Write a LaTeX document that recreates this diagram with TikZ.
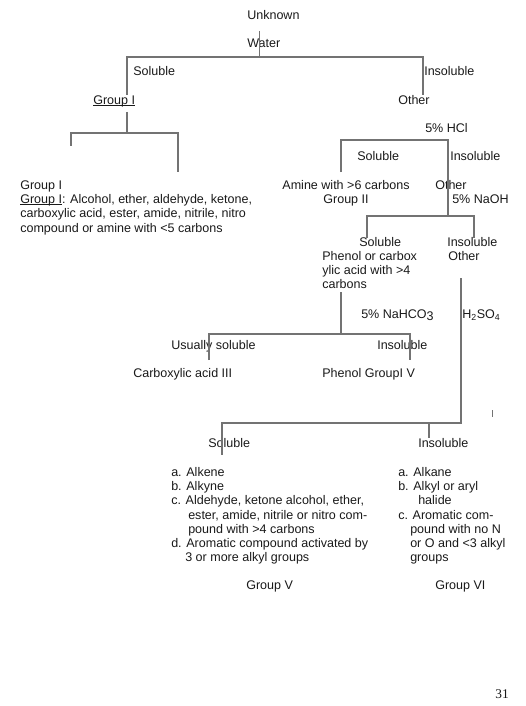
\documentclass[tikz,border=0pt]{standalone}
\usepackage{fontspec}
\setmainfont{Liberation Sans}
\newfontfamily\pagenumfont{Liberation Serif}
\definecolor{linegray}{RGB}{115,115,115}
\definecolor{textblack}{RGB}{25,25,25}
\newcommand\myul[1]{\setbox0\hbox{#1}\rlap{\rule[-1.1pt]{\wd0}{0.55pt}}\box0}
\tikzset{
  lbl/.style={anchor=base west, inner sep=0pt, text=textblack, font=\fontsize{9.4}{10.65}\selectfont},
  para/.style={lbl, align=left},
  branch/.style={draw=linegray, line width=0.9pt},
}
\begin{document}
\begin{tikzpicture}[x=0.75pt,y=-0.75pt]
\useasboundingbox (0,0) rectangle (525,706);
% ---- labels (multi-line nodes are placed by the baseline of their last line) ----
\node[lbl] (unknown) at (247,19.5) {Unknown};
\node[lbl] (water) at (247,47.5) {Water};
\node[lbl] (sol1) at (133,75.5) {Soluble};
\node[lbl] (insol1) at (424,75.5) {Insoluble};
\node[lbl] (g1u) at (93,104.5) {\myul{Group I}};
\node[lbl] (other1) at (398,104.5) {Other};
\node[lbl] (hcl) at (425,132.5) {5\% HCl};
\node[lbl] (sol2) at (357,160.5) {Soluble};
\node[lbl] (insol2) at (450,160.5) {Insoluble};
\node[para] (g1text) at (20,232) {Group I\\\myul{Group I}: Alcohol, ether, aldehyde, ketone,\\carboxylic acid, ester, amide, nitrile, nitro\\compound or amine with <5 carbons};
\node[lbl, anchor=base, align=center] (amine) at (346,203.7) {Amine with >6 carbons\\Group II};
\node[lbl] (other2) at (435,189.5) {Other};
\node[lbl] (naoh) at (452,203.5) {5\% NaOH};
\node[lbl] (sol3) at (359,246.5) {Soluble};
\node[lbl] (insol3) at (447,246.5) {Insoluble};
\node[para] (phenol) at (322,288.9) {Phenol or carbox\\ylic acid with >4\\carbons};
\node[lbl] (other3) at (448,260.5) {Other};
\node[lbl] (nahco) at (361,318.5) {5\% NaHCO\raisebox{-0.35ex}{3}};
\node[lbl] (hso) at (462,318.5) {H\textsubscript{2}SO\textsubscript{4}};
\node[lbl] (usol) at (171,349.5) {Usually soluble};
\node[lbl] (insol4) at (377,349.5) {Insoluble};
\node[lbl] (carbox) at (133,377.5) {Carboxylic acid III};
\node[lbl] (phenolv) at (322,377.5) {Phenol GroupI V};
\node[lbl] (sol5) at (208,447.5) {Soluble};
\node[lbl] (insol5) at (418,447.5) {Insoluble};
\node[para] (leftlist) at (171,561.7) {a. Alkene\\b. Alkyne\\c. Aldehyde, ketone alcohol, ether,\\\hspace*{12.75pt}ester, amide, nitrile or nitro com-\\\hspace*{12.75pt}pound with >4 carbons\\d. Aromatic compound activated by\\\hspace*{10.5pt}3 or more alkyl groups};
\node[para] (rightlist) at (398,561.7) {a. Alkane\\b. Alkyl or aryl\\\hspace*{15pt}halide\\c. Aromatic com-\\\hspace*{9pt}pound with no N\\\hspace*{9pt}or O and <3 alkyl\\\hspace*{9pt}groups};
\node[lbl] (g5) at (246,589.5) {Group V};
\node[lbl] (g6) at (435,589.5) {Group VI};
\node[anchor=base east, inner sep=0pt, text=textblack, font=\pagenumfont\fontsize{10}{12}\selectfont] (pnum) at (509,698) {31};
% ---- junction coordinates ----
\coordinate (a0) at (259.5,31);
\coordinate (a1) at (259.5,57);
\coordinate (aL) at (127,57);
\coordinate (aR) at (423,57);
\coordinate (aLe) at (127,95);
\coordinate (aRe) at (423,95);
\coordinate (b0) at (127,112);
\coordinate (b1) at (127,133);
\coordinate (bL) at (71,133);
\coordinate (bR) at (178,133);
\coordinate (bLe) at (71,146);
\coordinate (bRe) at (178,172);
\coordinate (cL) at (341,140);
\coordinate (cR) at (448,140);
\coordinate (cLe) at (341,172);
\coordinate (d1) at (448,216);
\coordinate (dL) at (367,216);
\coordinate (dR) at (474,216);
\coordinate (dLe) at (367,238);
\coordinate (dRe) at (474,238);
\coordinate (e0) at (341,292);
\coordinate (e1) at (341,334);
\coordinate (eL) at (209,334);
\coordinate (eR) at (410,334);
\coordinate (eLe) at (209,360);
\coordinate (eRe) at (410,360);
\coordinate (f0) at (461,278);
\coordinate (f1) at (461,423);
\coordinate (fL) at (222,423);
\coordinate (fM) at (429,423);
\coordinate (fLe) at (222,455);
\coordinate (fMe) at (429,438);
\coordinate (t0) at (492,410);
\coordinate (t1) at (492,417);
% ---- connectors ----
\draw[branch] (a0) -- (a1);
\draw[branch] (aLe) -- (aL) -- (aR) -- (aRe);
\draw[branch] (b0) -- (b1);
\draw[branch] (bLe) -- (bL) -- (bR) -- (bRe);
\draw[branch] (cLe) -- (cL) -- (cR) -- (d1);
\draw[branch] (dLe) -- (dL) -- (dR) -- (dRe);
\draw[branch] (e0) -- (e1);
\draw[branch] (eLe) -- (eL) -- (eR) -- (eRe);
\draw[branch] (f0) -- (f1) -- (fL) -- (fLe);
\draw[branch] (fM) -- (fMe);
\draw[branch, line width=0.6pt] (t0) -- (t1);
\end{tikzpicture}
\end{document}
